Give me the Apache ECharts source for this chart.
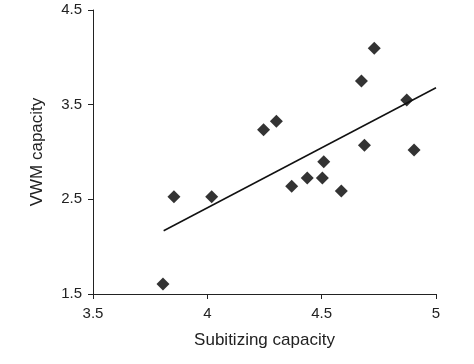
<!DOCTYPE html>
<html><head><meta charset="utf-8">
<script src="https://cdn.jsdelivr.net/npm/echarts@6/dist/echarts.min.js"></script>
<style>html,body{margin:0;padding:0;background:#fff}#c{width:474px;height:364px}</style>
</head><body><div id="c"></div>
<script>
const subitizing = [3.806, 3.854, 4.019, 4.246, 4.302, 4.369, 4.437, 4.503, 4.509, 4.586, 4.674, 4.687, 4.730, 4.872, 4.904];
const vwm = [1.605, 2.526, 2.526, 3.236, 3.324, 2.639, 2.726, 2.726, 2.898, 2.589, 3.749, 3.071, 4.097, 3.549, 3.022];
const trendX = [3.809, 5.0];
const trendY = [2.168, 3.679];
const xTicks = [3.5, 4, 4.5, 5];
const yTicks = [1.5, 2.5, 3.5, 4.5];

const chart = echarts.init(document.getElementById('c'));
const font = 'Liberation Sans, Arial, sans-serif';
chart.setOption({
  animation: false,
  grid: {left: 93, right: 38, top: 10, bottom: 70},
  xAxis: {
    type: 'value', min: 3.5, max: 5, interval: 0.5,
    name: 'Subitizing capacity', nameLocation: 'middle', nameGap: 38,
    nameTextStyle: {fontSize: 17, color: '#222', fontFamily: font},
    axisLine: {lineStyle: {color: '#222', width: 1}},
    axisTick: {show: true, length: 5, lineStyle: {color: '#222'}},
    axisLabel: {fontSize: 15, color: '#222', fontFamily: font, margin: 12,
      formatter: v => xTicks.includes(v) ? String(v) : ''},
    splitLine: {show: false}
  },
  yAxis: {
    type: 'value', min: 1.5, max: 4.5, interval: 1,
    name: 'VWM capacity', nameLocation: 'middle', nameGap: 47,
    nameTextStyle: {fontSize: 17, color: '#222', fontFamily: font},
    axisLine: {show: true, lineStyle: {color: '#222', width: 1}},
    axisTick: {show: true, length: 5, lineStyle: {color: '#222'}},
    axisLabel: {fontSize: 15, color: '#222', fontFamily: font, margin: 11,
      formatter: v => yTicks.includes(v) ? String(v) : ''},
    splitLine: {show: false}
  },
  series: [
    {type: 'scatter', symbol: 'diamond', symbolSize: 13,
     itemStyle: {color: '#000'},
     data: subitizing.map((x, i) => [x, vwm[i]])},
    {type: 'line', symbol: 'none', lineStyle: {color: '#111', width: 1.5},
     data: trendX.map((x, i) => [x, trendY[i]])}
  ]
});
</script></body></html>
